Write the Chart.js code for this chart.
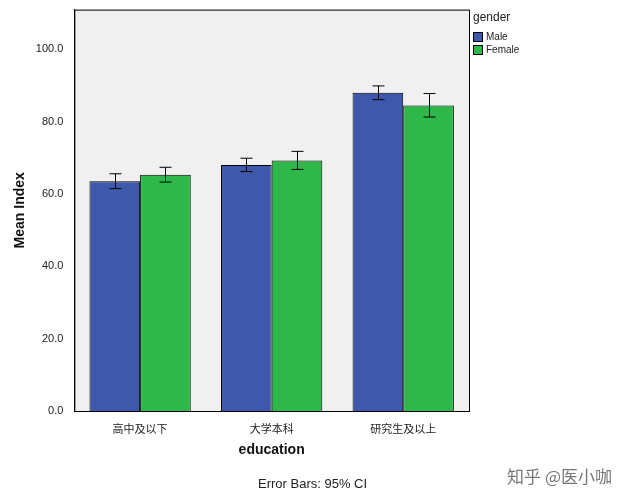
<!DOCTYPE html>
<html>
<head>
<meta charset="utf-8">
<script src="https://cdn.jsdelivr.net/npm/chart.js@4"></script>
<style>
body { margin: 0; background: #fff; font-family: Arial, "Liberation Sans", sans-serif; }
#wrap { position: relative; width: 626px; height: 501px; }
#legend { position: absolute; left: 473px; top: 10px; font-size: 11px; color: #222; }
#legend .item { display: flex; align-items: center; height: 13px; font-size: 10px; }
#legend .sw { width: 10px; height: 10px; border: 1px solid #000; margin-right: 3px; box-sizing: border-box; }
#foot { position: absolute; left: 0; width: 626px; top: 476px; text-align: center; font-size: 13px; color: #222; padding-left: 0; }
#foot span { position: absolute; left: 258px; }
#mark { position: absolute; right: 14px; top: 463px; font-size: 17px; color: #777; font-family: "Noto Sans CJK SC", sans-serif; }
</style>
</head>
<body>
<div id="wrap">
<canvas id="chart" width="626" height="501"></canvas>
<div id="legend">
  <div style="margin-bottom:6px;font-size:12px">gender</div>
  <div class="item"><div class="sw" style="background:#3e58ac"></div>Male</div>
  <div class="item"><div class="sw" style="background:#2fb84a"></div>Female</div>
</div>
<div id="foot"><span>Error Bars: 95% CI</span></div>
<div id="mark">知乎 @医小咖</div>
</div>
<script>
const categories = ['高中及以下', '大学本科', '研究生及以上'];
const maleMeans = [63.5, 68.0, 88.0];
const femaleMeans = [65.3, 69.3, 84.5];
const maleLow = [61.5, 66.2, 86.1];
const maleHigh = [65.6, 69.9, 89.9];
const femaleLow = [63.3, 66.8, 81.3];
const femaleHigh = [67.4, 71.8, 87.8];

// Plot area background
const bgPlugin = {
    id: 'bg',
    beforeDraw(chart) {
        const a = chart.chartArea, c = chart.ctx;
        c.save();
        c.fillStyle = '#f0f0f0';
        c.fillRect(a.left, a.top, a.right - a.left, a.bottom - a.top);
        c.strokeStyle = '#000';
        c.lineWidth = 1;
        c.strokeRect(a.left + 0.5, a.top + 0.5, a.right - a.left, a.bottom - a.top);
        c.restore();
    }
};

// Error bars
const errPlugin = {
    id: 'err',
    afterDatasetsDraw(chart) {
        const c = chart.ctx, y = chart.scales.y;
        const lows = [maleLow, femaleLow], highs = [maleHigh, femaleHigh];
        c.save();
        c.strokeStyle = '#000';
        c.lineWidth = 1;
        chart.data.datasets.forEach((ds, i) => {
            chart.getDatasetMeta(i).data.forEach((bar, j) => {
                const x = Math.round(bar.x) + 0.5;
                const y1 = y.getPixelForValue(lows[i][j]);
                const y2 = y.getPixelForValue(highs[i][j]);
                c.beginPath();
                c.moveTo(x, y1); c.lineTo(x, y2);
                c.moveTo(x - 6, y1); c.lineTo(x + 6, y1);
                c.moveTo(x - 6, y2); c.lineTo(x + 6, y2);
                c.stroke();
            });
        });
        c.restore();
    }
};

new Chart(document.getElementById('chart'), {
    type: 'bar',
    data: {
        labels: categories,
        datasets: [
            { label: 'Male', data: maleMeans, backgroundColor: '#3e58ac', borderColor: '#000', borderWidth: 1 },
            { label: 'Female', data: femaleMeans, backgroundColor: '#2fb84a', borderColor: '#000', borderWidth: 1 }
        ]
    },
    options: {
        responsive: false,
        animation: false,
        layout: { padding: { top: 5, right: 157, bottom: 38, left: 8 } },
        datasets: { bar: { categoryPercentage: 0.77, barPercentage: 1 } },
        plugins: { legend: { display: false }, tooltip: { enabled: false } },
        scales: {
            x: {
                grid: { display: false },
                border: { color: '#000' },
                ticks: { color: '#222', font: { size: 11, family: 'Noto Sans CJK SC' } },
                title: { display: true, text: 'education', color: '#111', font: { size: 14, weight: 'bold' } }
            },
            y: {
                min: 0, max: 111,
                grid: { display: false, drawTicks: true },
                border: { color: '#000' },
                afterBuildTicks(s) { s.ticks = [0, 20, 40, 60, 80, 100].map(v => ({ value: v })); },
                ticks: { color: '#222', font: { size: 11 }, callback: v => v.toFixed(1) },
                title: { display: true, text: 'Mean Index', color: '#111', font: { size: 14, weight: 'bold' } }
            }
        }
    },
    plugins: [bgPlugin, errPlugin]
});
</script>
</body>
</html>
